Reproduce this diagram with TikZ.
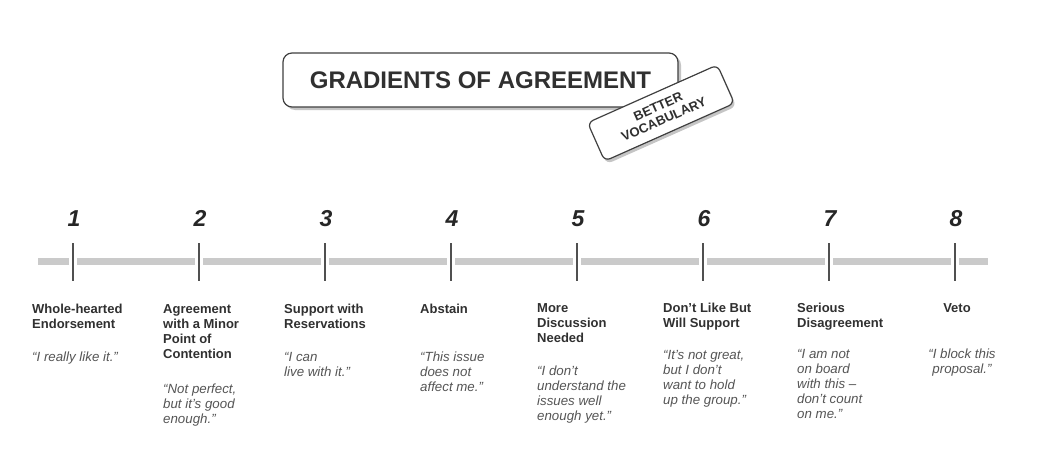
\documentclass[tikz,border=0pt]{standalone}
\usepackage{fontspec}
\setmainfont{Liberation Sans}
\usetikzlibrary{shadows}
\definecolor{ink}{HTML}{303030}
\definecolor{quotec}{HTML}{555555}
\definecolor{barc}{HTML}{CACACA}
\definecolor{tickc}{HTML}{505050}
\definecolor{boxc}{HTML}{404040}
\tikzset{
  head/.style={anchor=north west, inner sep=0pt, align=left, font=\fontsize{13}{15}\selectfont\bfseries, text=ink},
  quot/.style={anchor=north west, inner sep=0pt, align=left, font=\fontsize{13.3}{15}\selectfont\itshape, text=quotec},
  num/.style={anchor=base, inner sep=0pt, font=\fontsize{23}{23}\selectfont\bfseries\itshape, text=black!85},
  barseg/.style={line width=7pt, draw=barc},
  tickmark/.style={line width=2pt, draw=tickc},
  titlebox/.style={draw=boxc, line width=1.2pt, rounded corners=9pt, fill=white,
    minimum width=395pt, minimum height=54pt, inner sep=0pt,
    font=\fontsize{24}{24}\selectfont\bfseries, text=ink,
    drop shadow={shadow xshift=3pt, shadow yshift=-3pt, fill=black!45, opacity=0.5}},
  vocabbox/.style={draw=boxc, line width=1.2pt, rounded corners=6pt, fill=white,
    minimum width=142pt, minimum height=42pt, inner sep=0pt, align=center,
    font=\fontsize{13}{14}\selectfont\bfseries, text=ink,
    drop shadow={shadow xshift=2pt, shadow yshift=-3pt, fill=black!45, opacity=0.5}},
}
\begin{document}
\begin{tikzpicture}[x=1pt, y=-1pt]
\fill[white] (0,0) rectangle (1042,466);
\useasboundingbox (0,0) rectangle (1042,466);

% title
\node[titlebox] (title) at (480.5,80) {GRADIENTS OF AGREEMENT};
\node[vocabbox, rotate=24] (vocab) at (661,113) {BETTER\\VOCABULARY};

% timeline
\coordinate (barL) at (38,261.5);
\coordinate (barR) at (988,261.5);
\foreach \i/\x in {1/73,2/199,3/325,4/451,5/577,6/703,7/829,8/955}{
  \coordinate (t\i) at (\x,261.5);
  \coordinate (tt\i) at (\x,243);
  \coordinate (tb\i) at (\x,281);
  \node[num] (n\i) at (\x+1,226) {\i};
}
\draw[barseg, shorten >=4pt] (barL) -- (t1);
\foreach \a/\b in {1/2,2/3,3/4,4/5,5/6,6/7,7/8}{
  \draw[barseg, shorten <=4pt, shorten >=4pt] (t\a) -- (t\b);
}
\draw[barseg, shorten <=4pt] (t8) -- (barR);
\foreach \i in {1,...,8}{
  \draw[tickmark] (tt\i) -- (tb\i);
}

% headings
\node[head] (h1) at (32,304) {Whole-hearted\\Endorsement};
\node[head] (h2) at (163,304) {Agreement\\with a Minor\\Point of\\Contention};
\node[head] (h3) at (284,304) {Support with\\Reservations};
\node[head] (h4) at (420,304) {Abstain};
\node[head] (h5) at (537,303) {More\\Discussion\\Needed};
\node[head] (h6) at (663,303) {Don’t Like But\\Will Support};
\node[head] (h7) at (797,303) {Serious\\Disagreement};
\node[head, anchor=north, align=center] (h8) at (957,303) {Veto};

% quotes
\node[quot] (q1) at (32,352) {“I really like it.”};
\node[quot] (q2) at (163,384) {“Not perfect,\\but it’s good\\enough.”};
\node[quot] (q3) at (284,352) {“I can\\live with it.”};
\node[quot] (q4) at (420,352) {“This issue\\does not\\affect me.”};
\node[quot] (q5) at (537,366) {“I don’t\\understand the\\issues well\\enough yet.”};
\node[quot] (q6) at (663,350) {“It’s not great,\\but I don’t\\want to hold\\up the group.”};
\node[quot] (q7) at (797,349) {“I am not\\on board\\with this –\\don’t count\\on me.”};
\node[quot, anchor=north, align=center] (q8) at (962,349) {“I block this\\proposal.”};
\end{tikzpicture}
\end{document}
